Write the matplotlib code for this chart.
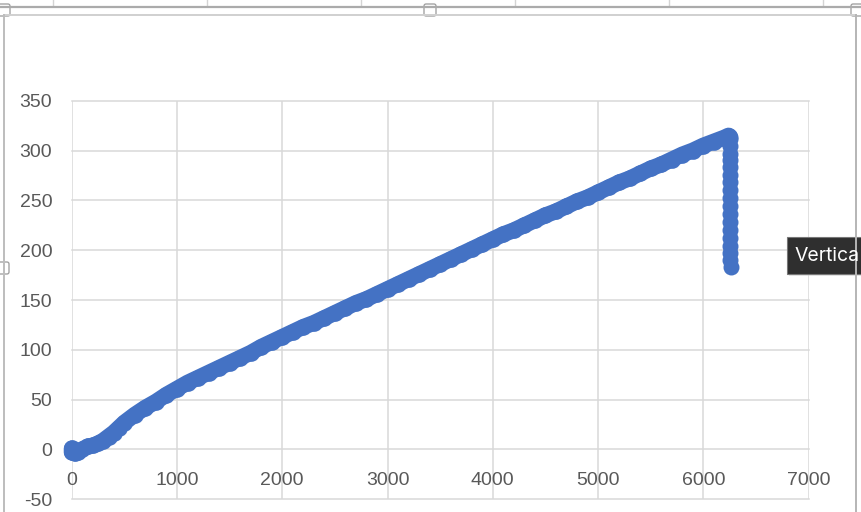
import matplotlib.pyplot as plt
from matplotlib.patches import Rectangle, FancyBboxPatch
from matplotlib.lines import Line2D

plt.rcParams['axes.unicode_minus'] = False

# datos
x_curve = [0, 0, 0, 30, 60, 100, 150, 200, 250, 300, 350, 400, 450, 500,
           600, 700, 800, 900, 1000, 1100, 1200, 1300, 1400, 1500, 1600,
           1700, 1800, 1900, 2000, 2100, 2200, 2300, 2400, 2500, 2600,
           2700, 2800, 2900, 3000, 3100, 3200, 3300, 3400, 3500, 3600,
           3700, 3800, 3900, 4000, 4100, 4200, 4300, 4400, 4500, 4600,
           4700, 4800, 4900, 5000, 5100, 5200, 5300, 5400, 5500, 5600,
           5700, 5800, 5900, 6000, 6100, 6200, 6240]
y_curve = [1, -1, -3, -4, -3, 0, 3, 4, 6, 9, 13, 17, 22, 27,
           35, 42, 48, 55, 61, 67, 72, 77, 82, 87, 92,
           97, 103, 108, 113, 118, 123, 127, 132, 137, 142,
           147, 151, 156, 161, 166, 171, 176, 181, 186, 191,
           196, 201, 206, 211, 216, 220, 225, 230, 235, 239,
           244, 249, 253, 258, 263, 268, 272, 277, 282, 286,
           291, 296, 300, 305, 309, 313, 315]

x_drop = [6250, 6255, 6255, 6255, 6258, 6258, 6258, 6258, 6258, 6258,
          6258, 6258, 6258, 6258, 6258, 6258, 6258, 6258, 6260]
y_drop = [314, 312, 305, 297, 290, 283, 275, 268, 260, 252,
          244, 236, 228, 220, 212, 204, 197, 190, 183]

x_ticks = [0, 1000, 2000, 3000, 4000, 5000, 6000, 7000]
y_ticks = [-50, 0, 50, 100, 150, 200, 250, 300, 350]

blue = '#4472C4'
grid_c = '#D9D9D9'
text_c = '#595959'
fuente = ['Liberation Sans', 'DejaVu Sans']

fig = plt.figure(figsize=(8.62, 5.12), dpi=100)
ax = fig.add_axes([0.0832, 0.0248, 0.8548, 0.7785])

ax.set_xlim(0, 7000)
ax.set_ylim(-50, 350)
ax.set_xticks(x_ticks)
ax.set_yticks(y_ticks)
ax.grid(True, color=grid_c, linewidth=1.1)
for gl in ax.get_xgridlines() + ax.get_ygridlines():
    gl.set_clip_on(False)
ax.set_axisbelow(True)

for s in ['top', 'right', 'left']:
    ax.spines[s].set_visible(False)
ax.spines['bottom'].set_position(('data', 0))
ax.spines['bottom'].set_visible(False)

ax.tick_params(axis='both', length=0, labelcolor=text_c, labelsize=14)
ax.tick_params(axis='x', pad=16)
ax.tick_params(axis='y', pad=14)
for lab in ax.get_xticklabels() + ax.get_yticklabels():
    lab.set_family(fuente)

# serie principal (marcadores muy juntos)
ax.plot(x_curve, y_curve, color=blue, linewidth=11.5, marker='o',
        markersize=12, markeredgewidth=0, solid_capstyle='round',
        solid_joinstyle='round', clip_on=False, zorder=3)
ax.plot(x_drop, y_drop, color=blue, linestyle='none', marker='o',
        markersize=11.5, markeredgewidth=0, clip_on=False, zorder=3)

# decoraciones de la hoja de cálculo (capa superior en píxeles)
ov = fig.add_axes([0, 0, 1, 1], zorder=10)
ov.set_xlim(0, 862)
ov.set_ylim(512, 0)
ov.axis('off')
ov.patch.set_alpha(0)

for cx in [53, 207, 361, 515, 669, 823]:
    ov.add_line(Line2D([cx, cx], [0, 6], color='#D4D4D4', lw=1))
ov.add_line(Line2D([0, 862], [6.5, 6.5], color='#ABABAB', lw=1.6))
ov.add_line(Line2D([4.5, 856.5], [14.5, 14.5], color='#D0D0D0', lw=1.4))
ov.add_line(Line2D([4.5, 4.5], [14.5, 512], color='#BDBDBD', lw=1.4))
ov.add_line(Line2D([856.5, 856.5], [14.5, 512], color='#B5B5B5', lw=1.4))

for hx, hy in [(4, 10), (430, 10), (857, 10), (3, 268)]:
    ov.add_patch(FancyBboxPatch((hx - 6, hy - 6), 12, 12,
                                boxstyle='round,pad=0,rounding_size=2',
                                facecolor='white', edgecolor='#9A9A9A',
                                lw=0.9))

# tooltip
ov.add_patch(Rectangle((789, 239), 80, 37, facecolor='#D0D0D0',
                       edgecolor='none', alpha=0.5))
ov.add_patch(Rectangle((787, 237), 80, 37, facecolor='#2F2F2F',
                       edgecolor='#777777', lw=0.8))
ov.text(795, 256, 'Vertica', color='white', fontsize=14,
        family=['Inter', 'DejaVu Sans'], va='center', ha='left')

fig.savefig('out.png', dpi=100)
